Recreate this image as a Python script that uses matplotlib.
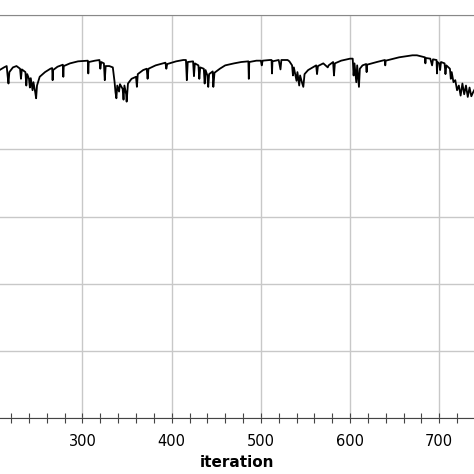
import numpy as np
import matplotlib.pyplot as plt
from matplotlib.ticker import MultipleLocator

iteration = [207, 212, 215, 216, 217, 218, 222, 226, 230, 231, 232, 236, 237, 238, 240, 241, 242, 244, 245, 247, 248, 249,
             252, 258, 264, 266, 266.5, 267, 272, 278, 278.5, 279, 286, 295, 305, 306, 306.5, 307, 314, 319, 320, 321,
             324, 325, 326, 330, 334, 336, 337, 338, 339, 341, 342, 345, 346, 347, 349, 349.5, 351, 355, 360, 361, 362,
             368, 372, 373, 374, 382, 390, 393, 394, 395, 405, 413, 416, 417, 418, 424, 425, 426, 430, 431, 432, 436,
             437, 438, 440, 441, 442, 445, 446, 446.7, 448, 454, 460, 470, 478, 486, 486.5, 487, 495, 500, 501, 502,
             510, 512, 512.5, 513, 520, 522, 523, 530, 532, 535, 536, 537, 540, 541, 543, 544, 546, 547.6, 549, 553,
             562, 563, 564, 570, 575, 576, 581, 582, 583, 590, 600, 603, 604, 605, 607, 608, 610, 611, 614, 618, 618.6,
             619, 630, 639, 639.5, 640, 655, 670, 675, 684, 684.5, 685, 690, 692, 693, 697, 697.5, 698, 700, 701, 702,
             706, 707, 708, 712, 713, 714, 716, 718, 720, 722, 724, 726, 728, 730, 732, 734, 736, 738, 740]
value = [5.18, 5.22, 5.24, 5.10, 4.98, 5.15, 5.22, 5.24, 5.20, 5.05, 5.19, 5.15, 4.95, 5.12, 5.05, 4.92, 5.06, 4.88, 5.0,
         4.85, 4.76, 4.95, 5.08, 5.15, 5.2, 5.21, 5.03, 5.18, 5.23, 5.26, 5.08, 5.24, 5.28, 5.31, 5.32, 5.32, 5.13, 5.30,
         5.32, 5.33, 5.20, 5.30, 5.28, 5.03, 5.24, 5.24, 5.22, 5.0, 4.85, 4.76, 4.95, 4.86, 4.97, 4.90, 4.74, 4.95, 4.82,
         4.71, 4.98, 5.05, 5.08, 4.93, 5.12, 5.18, 5.20, 5.05, 5.2, 5.25, 5.28, 5.29, 5.20, 5.27, 5.31, 5.33, 5.33, 5.03,
         5.30, 5.31, 5.09, 5.28, 5.25, 5.05, 5.22, 5.20, 4.98, 5.18, 5.1, 4.93, 5.12, 5.15, 5.16, 4.93, 5.14, 5.2, 5.25,
         5.28, 5.3, 5.31, 5.05, 5.30, 5.32, 5.32, 5.25, 5.32, 5.33, 5.33, 5.13, 5.31, 5.33, 5.19, 5.33, 5.33, 5.31, 5.25,
         5.1, 5.22, 5.02, 5.15, 4.95, 5.1, 5.0, 4.93, 5.12, 5.18, 5.25, 5.12, 5.24, 5.28, 5.22, 5.25, 5.3, 5.1, 5.28,
         5.32, 5.35, 5.35, 5.1, 5.28, 5.0, 5.25, 4.93, 5.2, 5.25, 5.27, 5.15, 5.26, 5.30, 5.33, 5.25, 5.32, 5.37, 5.40,
         5.40, 5.37, 5.28, 5.36, 5.35, 5.25, 5.34, 5.33, 5.13, 5.30, 5.28, 5.18, 5.3, 5.28, 5.12, 5.25, 5.2, 5.05, 5.15,
         5.0, 5.03, 4.88, 4.95, 4.8, 4.98, 4.82, 4.95, 4.78, 4.92, 4.79, 4.85, 4.9]

fig = plt.figure(figsize=(4.74, 4.74), dpi=100)
ax = fig.add_axes([0, 56 / 474, 1, 403 / 474])
ax.plot(iteration, value, color='black', lw=1.3)
ax.set_xlim(207.5, 739)
ax.set_ylim(0, 6)
ax.xaxis.set_major_locator(MultipleLocator(100))
ax.xaxis.set_minor_locator(MultipleLocator(20))
ax.yaxis.set_major_locator(MultipleLocator(1))
ax.grid(True, which='major', color='#c8c8c8', lw=1)
ax.set_yticklabels([])
ax.tick_params(axis='y', length=0)
ax.tick_params(axis='x', which='both', direction='inout', length=7, width=0.8, color='#444444', labelsize=10.5, pad=8)
for s in ['left', 'right']:
    ax.spines[s].set_visible(False)
ax.spines['top'].set_color('#888888')
ax.spines['bottom'].set_color('#444444')
ax.set_xlabel('iteration', fontsize=11, fontweight='bold', labelpad=4)
fig.savefig('out.png', dpi=100)
